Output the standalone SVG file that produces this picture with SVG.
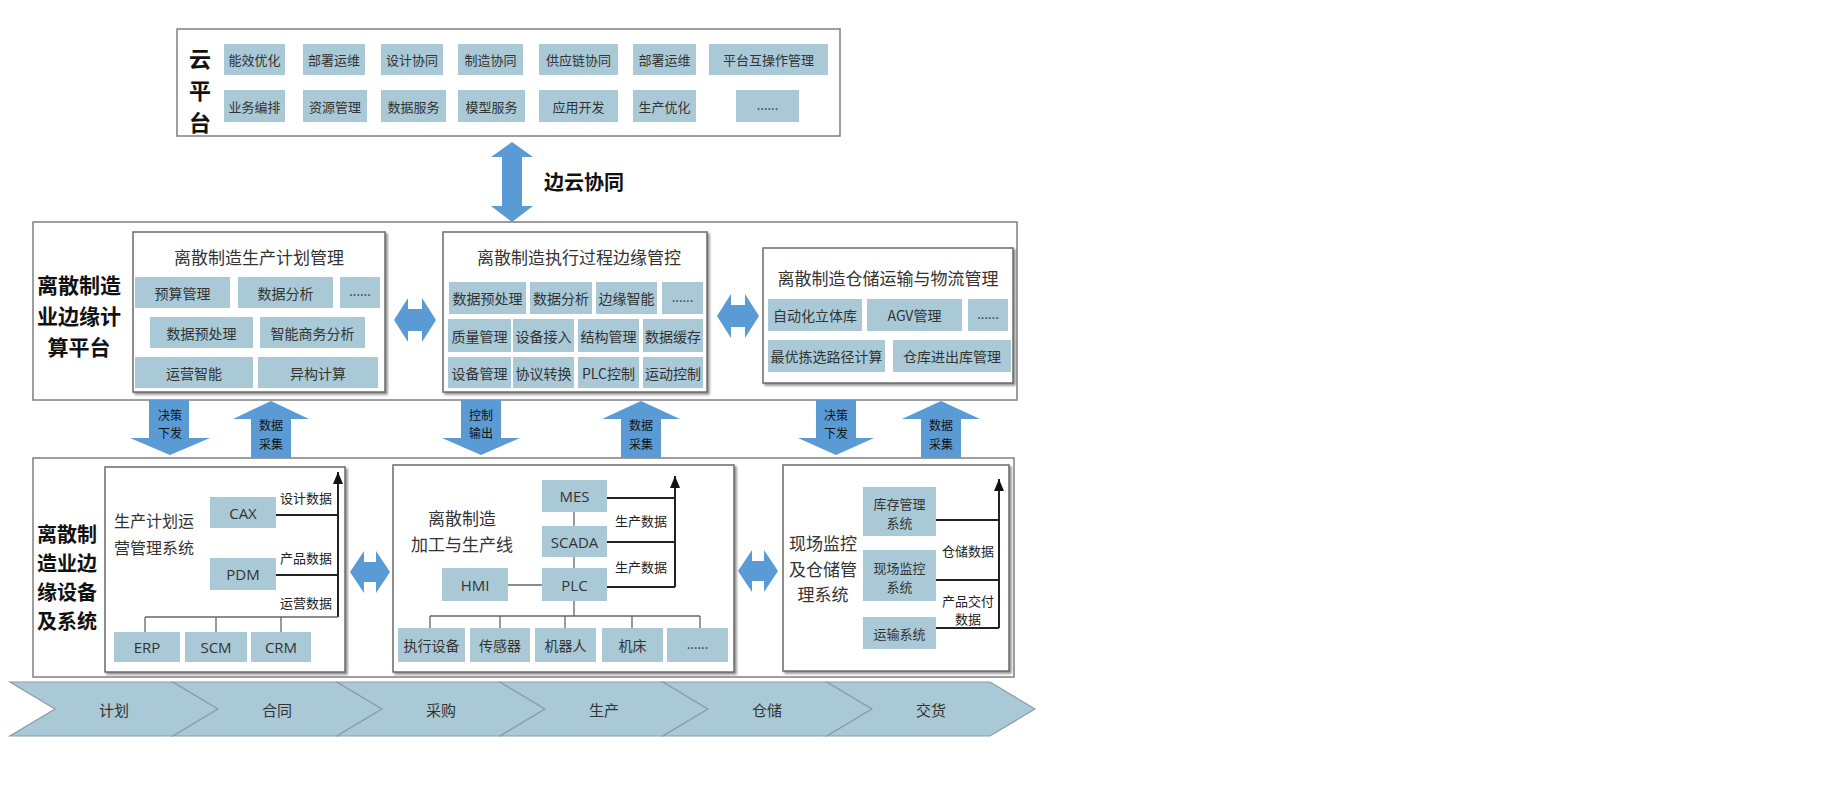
<svg xmlns="http://www.w3.org/2000/svg" width="1829" height="810" viewBox="0 0 1829 810">
<style>
.bg{fill:#fff}
.frame{fill:#fff;stroke:#7f7f7f;stroke-width:1.5}
.inner{fill:#fff;stroke:#6b6b6b;stroke-width:1.5}
.box{fill:#a9c9d6}
.t{font-family:"Noto Sans CJK SC","Noto Sans",sans-serif;fill:#333;text-anchor:middle;dominant-baseline:central;font-size:13px}
.m{font-size:14px}
.s{font-size:12px;fill:#111}
.ttl{font-size:17px;fill:#333}
.big{font-size:21px;font-weight:bold;fill:#111}
.big2{font-size:20px;font-weight:bold;fill:#111}
.cl{font-size:22px;font-weight:bold;fill:#111}
.lbl{font-size:13px;fill:#222}
.lat{font-family:"Open Sans","Noto Sans",sans-serif;font-size:15px}
.arrow{fill:#5b9bd5}
.ln{stroke:#222;stroke-width:2;fill:none}
.bus{stroke:#666;stroke-width:1.3;fill:none}
.chev{fill:#a9c9d6;stroke:#8f9ca2;stroke-width:1.2}
</style>
<defs>
<filter id="sh" x="-5%" y="-5%" width="110%" height="110%">
<feDropShadow dx="2" dy="2" stdDeviation="1" flood-color="#777" flood-opacity="0.8"/>
</filter>
<marker id="ah" viewBox="0 0 12 10" refX="12" refY="5" markerWidth="12" markerHeight="10" markerUnits="userSpaceOnUse" orient="auto">
<path d="M0,0 L12,5 L0,10 Z" fill="#111"/>
</marker>
</defs>
<rect class="bg" x="0" y="0" width="1829" height="810"/>

<!-- Cloud platform -->
<g id="cloud">
<rect class="frame" x="177" y="29" width="663" height="107"/>
<text class="t cl" x="200" y="57">云</text>
<text class="t cl" x="200" y="89">平</text>
<text class="t cl" x="200" y="121">台</text>
<g id="c1"><rect class="box" x="224" y="44" width="61" height="31"/><text class="t" x="254.5" y="59.5">能效优化</text></g>
<g id="c2"><rect class="box" x="303" y="44" width="62" height="31"/><text class="t" x="334" y="59.5">部署运维</text></g>
<g id="c3"><rect class="box" x="381" y="44" width="62" height="31"/><text class="t" x="412" y="59.5">设计协同</text></g>
<g id="c4"><rect class="box" x="458" y="44" width="65" height="31"/><text class="t" x="490.5" y="59.5">制造协同</text></g>
<g id="c5"><rect class="box" x="539" y="44" width="79" height="31"/><text class="t" x="578.5" y="59.5">供应链协同</text></g>
<g id="c6"><rect class="box" x="633" y="44" width="63" height="31"/><text class="t" x="664.5" y="59.5">部署运维</text></g>
<g id="c7"><rect class="box" x="709" y="44" width="119" height="31"/><text class="t" x="768.5" y="59.5">平台互操作管理</text></g>
<g id="c8"><rect class="box" x="224" y="90" width="61" height="32"/><text class="t" x="254.5" y="106">业务编排</text></g>
<g id="c9"><rect class="box" x="303" y="90" width="64" height="32"/><text class="t" x="335" y="106">资源管理</text></g>
<g id="c10"><rect class="box" x="381" y="90" width="65" height="32"/><text class="t" x="413.5" y="106">数据服务</text></g>
<g id="c11"><rect class="box" x="458" y="90" width="67" height="32"/><text class="t" x="491.5" y="106">模型服务</text></g>
<g id="c12"><rect class="box" x="539" y="90" width="79" height="32"/><text class="t" x="578.5" y="106">应用开发</text></g>
<g id="c13"><rect class="box" x="633" y="90" width="63" height="32"/><text class="t" x="664.5" y="106">生产优化</text></g>
<g id="c14"><rect class="box" x="736" y="90" width="63" height="32"/><text class="t" x="767.5" y="104">......</text></g>
</g>

<!-- Edge computing platform -->
<g id="edge">
<rect class="frame" x="33" y="222" width="984" height="178"/>
<text class="t big" x="79" y="284">离散制造</text>
<text class="t big" x="79" y="315">业边缘计</text>
<text class="t big" x="79" y="346">算平台</text>
</g>

<g id="edge-plan">
<rect class="inner" filter="url(#sh)" x="133" y="232" width="252" height="160"/>
<text class="t ttl" x="259" y="256">离散制造生产计划管理</text>
<rect class="box" x="135" y="277" width="95" height="31"/><text class="t m" x="182.5" y="292.5">预算管理</text>
<rect class="box" x="238" y="277" width="95" height="31"/><text class="t m" x="285.5" y="292.5">数据分析</text>
<rect class="box" x="340" y="277" width="40" height="31"/><text class="t" x="360" y="290.5">......</text>
<rect class="box" x="150" y="317" width="103" height="31"/><text class="t m" x="201.5" y="332.5">数据预处理</text>
<rect class="box" x="260" y="317" width="105" height="31"/><text class="t m" x="312.5" y="332.5">智能商务分析</text>
<rect class="box" x="135" y="357" width="118" height="31"/><text class="t m" x="194" y="372.5">运营智能</text>
<rect class="box" x="258" y="357" width="120" height="31"/><text class="t m" x="318" y="372.5">异构计算</text>
</g>

<g id="edge-exec">
<rect class="inner" filter="url(#sh)" x="443" y="232" width="264" height="160"/>
<text class="t ttl" x="579" y="256">离散制造执行过程边缘管控</text>
<rect class="box" x="449" y="282" width="77" height="32"/><text class="t m" x="487.5" y="298">数据预处理</text>
<rect class="box" x="530" y="282" width="62" height="32"/><text class="t m" x="561" y="298">数据分析</text>
<rect class="box" x="596" y="282" width="61" height="32"/><text class="t m" x="626.5" y="298">边缘智能</text>
<rect class="box" x="662" y="282" width="41" height="32"/><text class="t" x="682.5" y="296">......</text>
<rect class="box" x="448" y="319" width="63" height="33"/><text class="t m" x="479.5" y="335.5">质量管理</text>
<rect class="box" x="513" y="319" width="61" height="33"/><text class="t m" x="543.5" y="335.5">设备接入</text>
<rect class="box" x="578" y="319" width="61" height="33"/><text class="t m" x="608.5" y="335.5">结构管理</text>
<rect class="box" x="643" y="319" width="60" height="33"/><text class="t m" x="673" y="335.5">数据缓存</text>
<rect class="box" x="448" y="357" width="63" height="31"/><text class="t m" x="479.5" y="372.5">设备管理</text>
<rect class="box" x="513" y="357" width="61" height="31"/><text class="t m" x="543.5" y="372.5">协议转换</text>
<rect class="box" x="578" y="357" width="61" height="31"/><text class="t m" x="608.5" y="372.5">PLC控制</text>
<rect class="box" x="643" y="357" width="60" height="31"/><text class="t m" x="673" y="372.5">运动控制</text>
</g>

<g id="edge-logi">
<rect class="inner" filter="url(#sh)" x="763" y="248" width="250" height="135"/>
<text class="t ttl" x="888" y="277">离散制造仓储运输与物流管理</text>
<rect class="box" x="768" y="299" width="94" height="32"/><text class="t m" x="815" y="315">自动化立体库</text>
<rect class="box" x="867" y="299" width="95" height="32"/><text class="t m" x="914.5" y="315">AGV管理</text>
<rect class="box" x="968" y="299" width="40" height="32"/><text class="t" x="988" y="313">......</text>
<rect class="box" x="768" y="340" width="117" height="32"/><text class="t m" x="826.5" y="356">最优拣选路径计算</text>
<rect class="box" x="893" y="340" width="118" height="32"/><text class="t m" x="952" y="356">仓库进出库管理</text>
</g>

<!-- Device layer -->
<g id="device">
<rect class="frame" x="33" y="458" width="981" height="219"/>
<text class="t big2" x="67" y="533">离散制</text>
<text class="t big2" x="67" y="562">造业边</text>
<text class="t big2" x="67" y="591">缘设备</text>
<text class="t big2" x="67" y="620">及系统</text>
</g>

<g id="dev-plan">
<rect class="inner" filter="url(#sh)" x="105" y="467" width="240" height="205"/>
<text class="t" style="font-size:16px;text-anchor:start" x="114" y="520">生产计划运</text>
<text class="t" style="font-size:16px;text-anchor:start" x="114" y="547">营管理系统</text>
<rect class="box" x="210" y="497" width="66" height="31"/><text class="t lat" x="243" y="512.5">CAX</text>
<rect class="box" x="210" y="558" width="66" height="32"/><text class="t lat" x="243" y="574">PDM</text>
<rect class="box" x="114" y="632" width="66" height="30"/><text class="t lat" x="147" y="647">ERP</text>
<rect class="box" x="185" y="632" width="62" height="30"/><text class="t lat" x="216" y="647">SCM</text>
<rect class="box" x="251" y="632" width="60" height="30"/><text class="t lat" x="281" y="647">CRM</text>
<text class="t lbl" x="306" y="497">设计数据</text>
<text class="t lbl" x="306" y="557">产品数据</text>
<text class="t lbl" x="306" y="602">运营数据</text>
</g>

<g id="dev-line">
<rect class="inner" filter="url(#sh)" x="393" y="465" width="341" height="207"/>
<text class="t" style="font-size:17px" x="462" y="517">离散制造</text>
<text class="t" style="font-size:17px" x="462" y="543">加工与生产线</text>
<rect class="box" x="542" y="480" width="65" height="32"/><text class="t lat" x="574.5" y="496">MES</text>
<rect class="box" x="542" y="526" width="65" height="31"/><text class="t lat" x="574.5" y="541.5">SCADA</text>
<rect class="box" x="542" y="568" width="65" height="33"/><text class="t lat" x="574.5" y="584.5">PLC</text>
<rect class="box" x="442" y="568" width="66" height="33"/><text class="t lat" x="475" y="584.5">HMI</text>
<rect class="box" x="398" y="628" width="67" height="34"/><text class="t m" x="431.5" y="645">执行设备</text>
<rect class="box" x="470" y="628" width="60" height="34"/><text class="t m" x="500" y="645">传感器</text>
<rect class="box" x="535" y="628" width="61" height="34"/><text class="t m" x="565.5" y="645">机器人</text>
<rect class="box" x="602" y="628" width="61" height="34"/><text class="t m" x="632.5" y="645">机床</text>
<rect class="box" x="667" y="628" width="61" height="34"/><text class="t" x="697.5" y="643">......</text>
<text class="t lbl" x="641" y="520">生产数据</text>
<text class="t lbl" x="641" y="566">生产数据</text>
</g>

<g id="dev-ware">
<rect class="inner" filter="url(#sh)" x="783" y="465" width="226" height="206"/>
<text class="t" style="font-size:17px" x="823" y="542">现场监控</text>
<text class="t" style="font-size:17px" x="823" y="568">及仓储管</text>
<text class="t" style="font-size:17px" x="823" y="593">理系统</text>
<rect class="box" x="863" y="487" width="73" height="49"/><text class="t" x="899.5" y="503">库存管理</text><text class="t" x="899.5" y="522">系统</text>
<rect class="box" x="863" y="550" width="73" height="51"/><text class="t" x="899.5" y="567">现场监控</text><text class="t" x="899.5" y="586">系统</text>
<rect class="box" x="863" y="617" width="73" height="32"/><text class="t" x="899.5" y="633">运输系统</text>
<text class="t lbl" x="968" y="550">仓储数据</text>
<text class="t lbl" x="968" y="600">产品交付</text>
<text class="t lbl" x="968" y="618">数据</text>
</g>

<!-- Connectors -->
<g id="connectors">
<g id="edge-cloud">
<polygon class="arrow" points="512,142 533,157 522,157 522,206 533,206 512,222 491,206 502,206 502,157 491,157"/>
<text class="t" style="font-size:20px;font-weight:bold;fill:#111" x="584" y="181">边云协同</text>
</g>
<polygon class="arrow" points="394,320 408,298 408,309 422,309 422,298 436,320 422,342 422,331 408,331 408,342"/>
<polygon class="arrow" points="717,316 731,294 731,305 745,305 745,294 759,316 745,338 745,327 731,327 731,338"/>
<polygon class="arrow" points="350,572 364,551 364,562 376,562 376,551 390,572 376,593 376,582 364,582 364,593"/>
<polygon class="arrow" points="738,571 752,550 752,561 764,561 764,550 778,571 764,592 764,581 752,581 752,592"/>

<polygon class="arrow" points="149,400 189,400 189,438 210,438 170,455 130,438 149,438"/>
<text class="t s" x="170" y="414">决策</text><text class="t s" x="170" y="432">下发</text>
<polygon class="arrow" points="271,401 309,419 291,419 291,458 251,458 251,419 233,419"/>
<text class="t s" x="271" y="424">数据</text><text class="t s" x="271" y="443">采集</text>
<polygon class="arrow" points="461,400 501,400 501,438 520,438 481,455 442,438 461,438"/>
<text class="t s" x="481" y="414">控制</text><text class="t s" x="481" y="432">输出</text>
<polygon class="arrow" points="641,401 680,419 661,419 661,458 621,458 621,419 602,419"/>
<text class="t s" x="641" y="424">数据</text><text class="t s" x="641" y="443">采集</text>
<polygon class="arrow" points="816,400 856,400 856,438 874,438 836,455 798,438 816,438"/>
<text class="t s" x="836" y="414">决策</text><text class="t s" x="836" y="432">下发</text>
<polygon class="arrow" points="941,401 980,419 961,419 961,458 921,458 921,419 902,419"/>
<text class="t s" x="941" y="424">数据</text><text class="t s" x="941" y="443">采集</text>

<path class="ln" d="M276,515 H338 M276,575 H338"/>
<path class="ln" d="M338,617 V472" marker-end="url(#ah)"/>
<path class="bus" d="M145,617 H338 M145,617 V632 M216,617 V632 M281,617 V632"/>

<path class="bus" d="M508,585 H542 M574,512 V526 M574,557 V568 M574,601 V616 M430,616 H700 M430,616 V628 M500,616 V628 M565,616 V628 M632,616 V628 M700,616 V628"/>
<path class="ln" d="M607,498 H675 M607,542 H675 M607,587 H675"/>
<path class="ln" d="M675,587 V476" marker-end="url(#ah)"/>

<path class="ln" d="M936,520 H999 M936,580 H999 M936,628 H999"/>
<path class="ln" d="M999,628 V479" marker-end="url(#ah)"/>
</g>

<!-- Process chevrons -->
<g id="process">
<g id="p1"><polygon class="chev" points="10,682 173,682 218,709 173,736 10,736 55,709"/><text class="t" style="font-size:15px" x="114" y="709">计划</text></g>
<g id="p2"><polygon class="chev" points="173,682 337,682 382,709 337,736 173,736 218,709"/><text class="t" style="font-size:15px" x="277" y="709">合同</text></g>
<g id="p3"><polygon class="chev" points="337,682 500,682 545,709 500,736 337,736 382,709"/><text class="t" style="font-size:15px" x="441" y="709">采购</text></g>
<g id="p4"><polygon class="chev" points="500,682 663,682 708,709 663,736 500,736 545,709"/><text class="t" style="font-size:15px" x="604" y="709">生产</text></g>
<g id="p5"><polygon class="chev" points="663,682 827,682 872,709 827,736 663,736 708,709"/><text class="t" style="font-size:15px" x="767" y="709">仓储</text></g>
<g id="p6"><polygon class="chev" points="827,682 990,682 1035,709 990,736 827,736 872,709"/><text class="t" style="font-size:15px" x="931" y="709">交货</text></g>
</g>
</svg>
